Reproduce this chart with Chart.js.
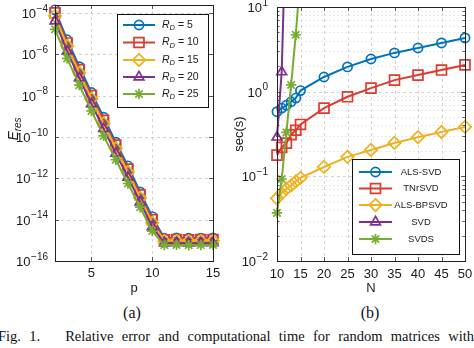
<!DOCTYPE html>
<html><head><meta charset="utf-8">
<script src="https://cdn.jsdelivr.net/npm/chart.js@4.4.1/dist/chart.umd.min.js"></script>
<style>
html,body{margin:0;padding:0;background:#fff;width:474px;height:348px;overflow:hidden;position:relative;}
canvas{position:absolute;top:0;}
#ca{left:0;} #cb{left:230px;}
.cap{position:absolute;font-family:"Liberation Serif","Times New Roman",serif;color:#111;white-space:nowrap;}
</style></head><body>
<canvas id="ca" width="230" height="300"></canvas>
<canvas id="cb" width="244" height="300"></canvas>
<div class="cap" style="left:102px;top:303px;width:60px;text-align:center;font-size:16px;line-height:20px;">(a)</div>
<div class="cap" style="left:340px;top:303px;width:60px;text-align:center;font-size:16px;line-height:20px;">(b)</div>
<div class="cap" style="left:-2px;top:328px;width:476px;font-size:14.5px;line-height:17px;white-space:normal;text-align:justify;text-align-last:justify;">Fig. 1.&nbsp;&nbsp; Relative error and computational time for random matrices with</div>
<script>
// ---------- data (a) ----------
const pValues = [2,3,4,5,6,7,8,9,10,11,12,13,14,15];
const errRD5  = [1.4e-4,5.0e-6,2.5e-7,1.4e-8,8.9e-10,5.6e-11,4.0e-12,2.2e-13,1.4e-14,1.26e-15,1.3e-15,1.25e-15,1.28e-15,1.3e-15];
const errRD10 = [1.0e-4,3.5e-6,1.8e-7,1.0e-8,6.3e-10,4.0e-11,2.8e-12,1.6e-13,1.0e-14,1.05e-15,1.1e-15,1.05e-15,1.08e-15,1.1e-15];
const errRD15 = [7.1e-5,2.5e-6,1.26e-7,7.1e-9,4.5e-10,2.8e-11,2.0e-12,1.12e-13,7.1e-15,9.3e-16,9.5e-16,9.2e-16,9.4e-16,9.5e-16];
const errRD20 = [4.0e-5,1.4e-6,7.1e-8,4.0e-9,2.5e-10,1.6e-11,1.12e-12,7.1e-14,4.5e-15,7.4e-16,7.6e-16,7.3e-16,7.5e-16,7.6e-16];
const errRD25 = [1.6e-5,6.3e-7,3.2e-8,1.8e-9,1.12e-10,7.9e-12,5.6e-13,4.0e-14,2.8e-15,5.9e-16,6.0e-16,5.8e-16,5.9e-16,6.0e-16];
const seriesNamesA = ['5','10','15','20','25'];
const pTicks = [5,10,15];
const errTickExps = [-16,-14,-12,-10,-8,-6,-4];
// ---------- data (b) ----------
const nValues = [10,11,12,13,14,15,20,25,30,35,40,45,50];
const timeALSSVD   = [0.58,0.64,0.69,0.76,0.84,1.03,1.49,1.96,2.43,2.87,3.28,3.76,4.31];
const timeTNrSVD   = [0.178,0.22,0.247,0.31,0.35,0.41,0.64,0.87,1.1,1.37,1.57,1.8,2.07];
const timeALSBPSVD = [0.055,0.063,0.071,0.078,0.087,0.096,0.129,0.17,0.205,0.248,0.29,0.334,0.383];
const timeSVD      = [0.29,1.71,170];
const timeSVDS     = [0.037,0.093,0.33,1.2,4.7,25];
const seriesNamesB = ['ALS-SVD','TNrSVD','ALS-BPSVD','SVD','SVDS'];
const nTicks = [10,15,20,25,30,35,40,45,50];
const secTickExps = [-2,-1,0,1];

const COLORS = ['#0072BD','#DC3B2E','#EDB120','#7E2F8E','#77AC30'];
const STYLES = ['circle','rect','rectRot','triangle','star'];
const RADII  = [4.6,7,6.2,5.6,5.2];
const SANS = '"Liberation Sans", Arial, Helvetica, sans-serif';
const TXT = '#1a1a1a';

function drawMarker(ctx, style, x, y, r, color, lw){
  ctx.save(); ctx.strokeStyle=color; ctx.lineWidth=lw; ctx.setLineDash([]); ctx.beginPath();
  if(style==='circle'){ ctx.arc(x,y,r,0,Math.PI*2); }
  else if(style==='rect'){ const s=r*Math.SQRT1_2; ctx.rect(x-s,y-s,2*s,2*s); }
  else if(style==='rectRot'){ ctx.moveTo(x-r,y); ctx.lineTo(x,y-r); ctx.lineTo(x+r,y); ctx.lineTo(x,y+r); ctx.closePath(); }
  else if(style==='triangle'){ let a=0; ctx.moveTo(x+Math.sin(a)*r,y-Math.cos(a)*r); a+=2*Math.PI/3; ctx.lineTo(x+Math.sin(a)*r,y-Math.cos(a)*r); a+=2*Math.PI/3; ctx.lineTo(x+Math.sin(a)*r,y-Math.cos(a)*r); ctx.closePath(); }
  else if(style==='star'){ for(let k=0;k<4;k++){ const a=k*Math.PI/4; const dx=Math.cos(a)*r, dy=Math.sin(a)*r; ctx.moveTo(x-dx,y-dy); ctx.lineTo(x+dx,y+dy);} }
  ctx.stroke(); ctx.restore();
}

function drawPow(ctx, xRight, y, exp){
  const es = exp<0 ? '\u2212'+(-exp) : String(exp);
  ctx.save(); ctx.fillStyle=TXT; ctx.textAlign='right'; ctx.textBaseline='middle';
  ctx.font='10px '+SANS; const ew=ctx.measureText(es).width;
  ctx.fillText(es, xRight, y-4);
  ctx.font='13px '+SANS; ctx.fillText('10', xRight-ew-0.5, y+1.5);
  ctx.restore();
}

function makeDatasets(xs, ys, names){
  return ys.map((arr,i)=>({
    label: names[i],
    data: arr.map((v,j)=>({x:xs[j], y:v})),
    borderColor: COLORS[i], backgroundColor:'rgba(0,0,0,0)', borderWidth:2,
    pointStyle: STYLES[i], pointRadius: RADII[i], pointHoverRadius: RADII[i],
    pointBorderColor: COLORS[i], pointBackgroundColor:'rgba(0,0,0,0)', pointBorderWidth:1.7,
    tension:0, order: ys.length-i
  }));
}

function framePlugin(cfg){
  return {
    id:'frame'+cfg.id,
    beforeDatasetsDraw(chart){
      const ctx=chart.ctx, a=chart.chartArea, xs=chart.scales.x, ys=chart.scales.y;
      ctx.save(); ctx.lineWidth=0.8;
      ctx.setLineDash([2,2]); ctx.strokeStyle='#e4e4e4';
      (cfg.yMinor||[]).forEach(v=>{ const py=Math.round(ys.getPixelForValue(v))+0.5; ctx.beginPath(); ctx.moveTo(a.left,py); ctx.lineTo(a.right,py); ctx.stroke(); });
      ctx.setLineDash([3,3]); ctx.strokeStyle='#c8c8c8';
      cfg.xTicks.forEach(v=>{ const px=Math.round(xs.getPixelForValue(v))+0.5; if(px<a.left+2||px>a.right-2) return; ctx.beginPath(); ctx.moveTo(px,a.top); ctx.lineTo(px,a.bottom); ctx.stroke(); });
      cfg.yTicks.forEach(v=>{ const py=Math.round(ys.getPixelForValue(v))+0.5; if(py<a.top+2||py>a.bottom-2) return; ctx.beginPath(); ctx.moveTo(a.left,py); ctx.lineTo(a.right,py); ctx.stroke(); });
      ctx.restore();
    },
    afterDatasetsDraw(chart){
      const ctx=chart.ctx, a=chart.chartArea, xs=chart.scales.x, ys=chart.scales.y;
      ctx.save(); ctx.setLineDash([]); ctx.strokeStyle='#333'; ctx.lineWidth=0.8;
      cfg.xTicks.forEach(v=>{ const px=Math.round(xs.getPixelForValue(v))+0.5; ctx.beginPath(); ctx.moveTo(px,a.bottom); ctx.lineTo(px,a.bottom-4); ctx.moveTo(px,a.top); ctx.lineTo(px,a.top+4); ctx.stroke(); });
      cfg.yTicks.forEach(v=>{ const py=Math.round(ys.getPixelForValue(v))+0.5; ctx.beginPath(); ctx.moveTo(a.left,py); ctx.lineTo(a.left+4,py); ctx.moveTo(a.right,py); ctx.lineTo(a.right-4,py); ctx.stroke(); });
      (cfg.yMinor||[]).forEach(v=>{ const py=Math.round(ys.getPixelForValue(v))+0.5; ctx.beginPath(); ctx.moveTo(a.left,py); ctx.lineTo(a.left+2.5,py); ctx.moveTo(a.right,py); ctx.lineTo(a.right-2.5,py); ctx.stroke(); });
      ctx.lineWidth=1; ctx.strokeStyle='#222';
      ctx.strokeRect(Math.round(a.left)+0.5, Math.round(a.top)+0.5, Math.round(a.right-a.left), Math.round(a.bottom-a.top));
      const L=cfg.legend;
      ctx.fillStyle='#fff'; ctx.fillRect(L.x0,L.y0,L.x1-L.x0,L.y1-L.y0);
      ctx.strokeStyle='#111'; ctx.lineWidth=1; ctx.strokeRect(L.x0+0.5,L.y0+0.5,L.x1-L.x0,L.y1-L.y0);
      L.rows.forEach((ry,i)=>{
        ctx.strokeStyle=COLORS[i]; ctx.lineWidth=2; ctx.beginPath(); ctx.moveTo(L.lx0,ry); ctx.lineTo(L.lx1,ry); ctx.stroke();
        drawMarker(ctx, STYLES[i], (L.lx0+L.lx1)/2, ry, RADII[i], COLORS[i], 1.7);
        L.text(ctx, i, ry);
      });
      ctx.restore();
    },
    afterDraw(chart){
      const ctx=chart.ctx, a=chart.chartArea, xs=chart.scales.x, ys=chart.scales.y;
      ctx.save(); ctx.fillStyle=TXT;
      ctx.font='13px '+SANS; ctx.textAlign='center'; ctx.textBaseline='middle';
      cfg.xTicks.forEach(v=>{ ctx.fillText(String(v), xs.getPixelForValue(v), cfg.xLabelY); });
      cfg.yExps.forEach(e=>{ drawPow(ctx, cfg.yLabelRight, ys.getPixelForValue(Math.pow(10,e)), e); });
      ctx.font='13px '+SANS; ctx.fillText(cfg.xTitle, (a.left+a.right)/2, cfg.xTitleY);
      cfg.yTitle(ctx);
      ctx.restore();
    }
  };
}

function baseOptions(xmin,xmax,ymin,ymax,cfg){
  return {
    responsive:false, animation:false, devicePixelRatio:1,
    layout:{autoPadding:false, padding:cfg.padding},
    plugins:{legend:{display:false}, tooltip:{enabled:false}},
    events:[],
    scales:{
      x:{type:'linear', min:xmin, max:xmax, grid:{display:false,drawTicks:false}, border:{display:false}, ticks:{display:false},
         afterBuildTicks:s=>{ s.ticks=cfg.xTicks.map(v=>({value:v})); }, afterFit:s=>{ s.height=cfg.xHeight; }},
      y:{type:'logarithmic', min:ymin, max:ymax, grid:{display:false,drawTicks:false}, border:{display:false}, ticks:{display:false},
         afterBuildTicks:s=>{ s.ticks=cfg.yTicks.map(v=>({value:v})); }, afterFit:s=>{ s.width=cfg.yWidth; }}
    }
  };
}

// ---------- chart (a) ----------
const cfgA = {
  id:'A', padding:{left:0,right:17,top:5,bottom:0}, xHeight:39, yWidth:55,
  xTicks:pTicks, yTicks:errTickExps.map(e=>Math.pow(10,e)), yExps:errTickExps,
  xLabelY:273, xTitle:'p', xTitleY:288, yLabelRight:48,
  yTitle(ctx){
    ctx.save(); ctx.translate(13,129); ctx.rotate(-Math.PI/2);
    ctx.textAlign='left'; ctx.textBaseline='alphabetic';
    ctx.font='italic 14px '+SANS; const w1=ctx.measureText('E').width;
    ctx.font='italic 10px '+SANS; const w2=ctx.measureText('res').width;
    const x0=-(w1+w2)/2;
    ctx.font='italic 14px '+SANS; ctx.fillText('E',x0,5);
    ctx.font='italic 10px '+SANS; ctx.fillText('res',x0+w1,8);
    ctx.restore();
  },
  legend:{x0:117,y0:14,x1:208,y1:107, rows:[25,42.5,60,77,94], lx0:123, lx1:155,
    text(ctx,i,ry){
      ctx.fillStyle=TXT; ctx.textAlign='left'; ctx.textBaseline='middle';
      let x=162;
      ctx.font='italic 10.5px '+SANS; ctx.fillText('R',x,ry); x+=ctx.measureText('R').width;
      ctx.font='italic 7.5px '+SANS; ctx.fillText('D',x,ry+3); x+=ctx.measureText('D').width;
      ctx.font='10.5px '+SANS; ctx.fillText(' = '+seriesNamesA[i],x,ry);
    }}
};
new Chart(document.getElementById('ca'), {
  type:'line',
  data:{datasets: makeDatasets(pValues,[errRD5,errRD10,errRD15,errRD20,errRD25], seriesNamesA.map(s=>'R_D = '+s)).map(d=>Object.assign(d,{clip:{left:8,right:8,top:8,bottom:8}}))},
  options: baseOptions(2,15,1e-16,2.4e-4,cfgA),
  plugins:[framePlugin(cfgA)]
});

// ---------- chart (b) ----------
const secMinor=[]; for(let e=-2;e<1;e++){ for(let m=2;m<=9;m++) secMinor.push(m*Math.pow(10,e)); }
const cfgB = {
  id:'B', padding:{left:0,right:9,top:7,bottom:0}, xHeight:39, yWidth:47,
  xTicks:nTicks, yTicks:secTickExps.map(e=>Math.pow(10,e)), yExps:secTickExps, yMinor:secMinor,
  xLabelY:274, xTitle:'N', xTitleY:288, yLabelRight:38,
  yTitle(ctx){
    ctx.save(); ctx.translate(9,134); ctx.rotate(-Math.PI/2);
    ctx.textAlign='center'; ctx.textBaseline='middle'; ctx.font='13px '+SANS; ctx.fillStyle=TXT;
    ctx.fillText('sec(s)',0,0); ctx.restore();
  },
  legend:{x0:122,y0:159,x1:229,y1:254, rows:[172,188.5,205,222,239], lx0:129, lx1:162,
    text(ctx,i,ry){
      ctx.fillStyle=TXT; ctx.textAlign='center'; ctx.textBaseline='middle';
      ctx.font='9.5px '+SANS; ctx.fillText(seriesNamesB[i],191,ry);
    }}
};
new Chart(document.getElementById('cb'), {
  type:'line',
  data:{datasets: makeDatasets(nValues,[timeALSSVD,timeTNrSVD,timeALSBPSVD,timeSVD,timeSVDS], seriesNamesB).map(d=>Object.assign(d,{clip:{left:8,right:8,top:0,bottom:8}}))},
  options: baseOptions(10,50,0.01,10,cfgB),
  plugins:[framePlugin(cfgB)]
});
</script>
</body></html>
